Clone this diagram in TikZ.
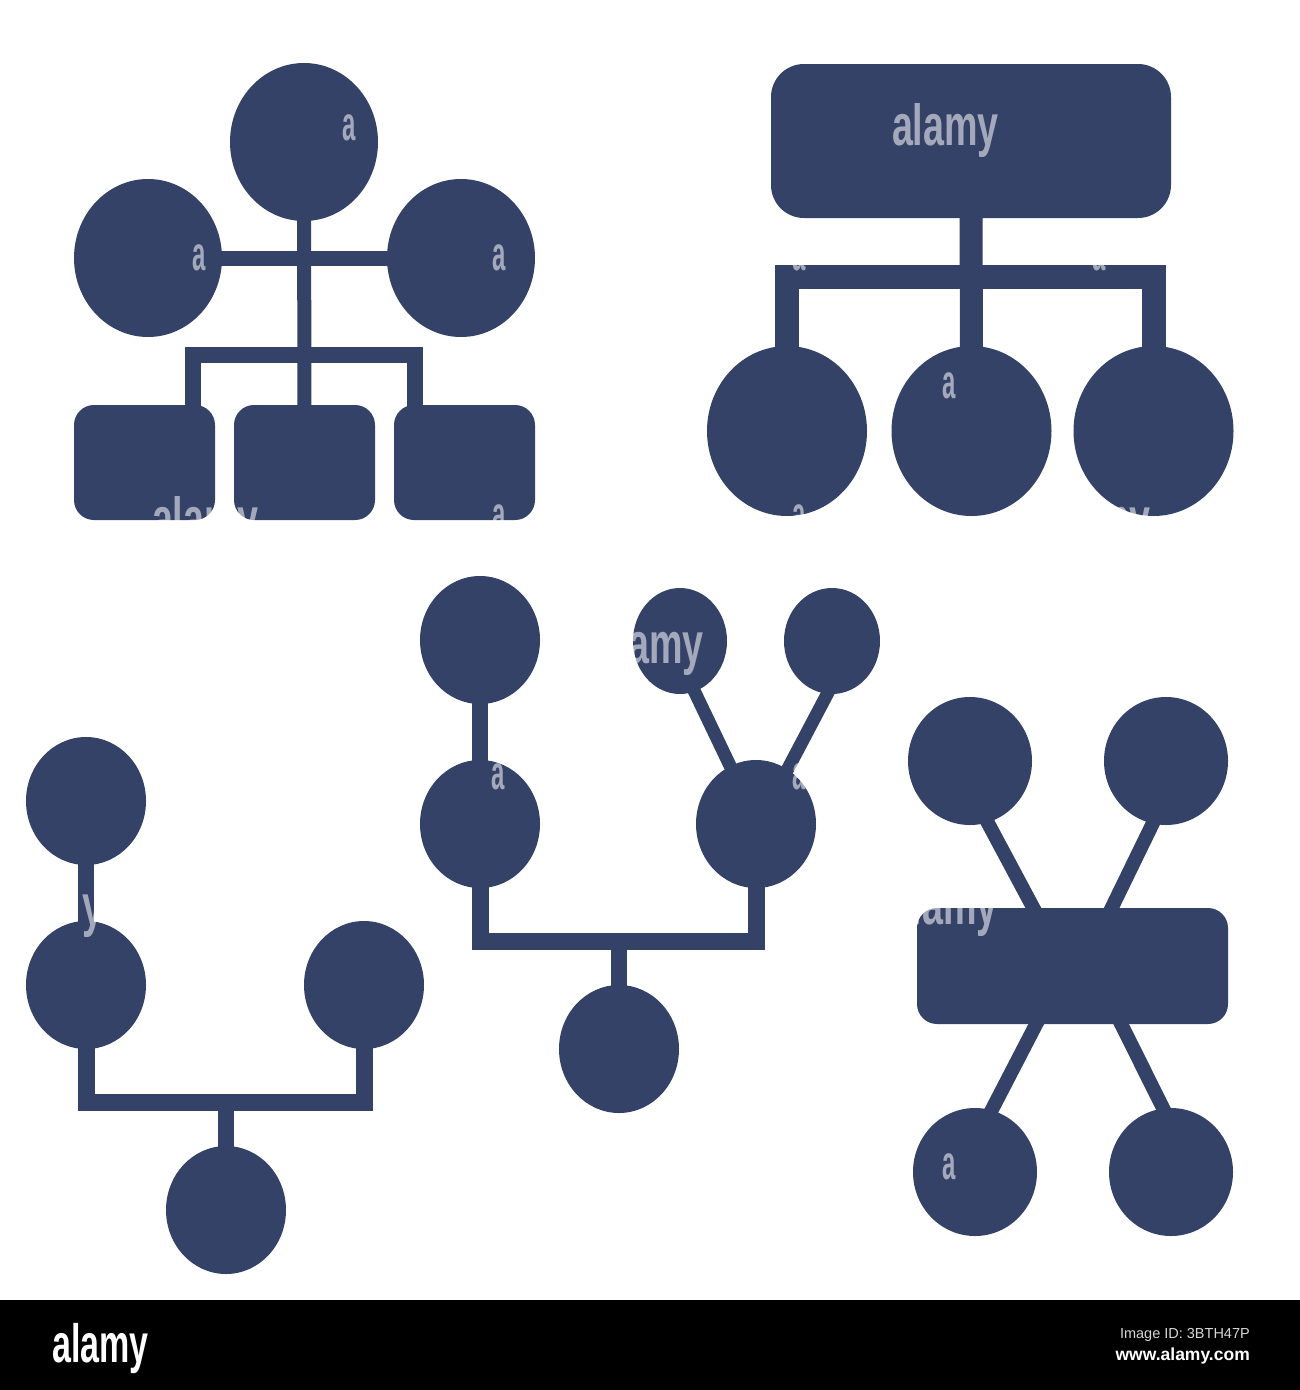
\documentclass[tikz,border=0pt]{standalone}
\usepackage{fontspec}
\setmainfont{Liberation Sans}
\newfontfamily\wmfont{Liberation Sans}
\usetikzlibrary{shapes.geometric,calc}
\definecolor{navy}{RGB}{52,66,104}
\definecolor{idgrey}{RGB}{215,215,215}
\begin{document}
\begin{tikzpicture}[x=1pt,y=-1pt,
  blob/.style={ellipse,fill=navy,draw=none,inner sep=0pt,outer sep=0pt},
  box/.style={rectangle,fill=navy,draw=none,inner sep=0pt,outer sep=0pt},
  conn/.style={draw=navy,line cap=butt,line join=miter},
  ext/.style={shorten <=-8pt,shorten >=-8pt},
  wmword/.style={text=white,text opacity=0.55,inner sep=0pt,outer sep=0pt,anchor=base west,
    font=\wmfont\bfseries\fontsize{58}{58}\selectfont,xscale=0.65},
  wma/.style={text=white,text opacity=0.55,inner sep=0pt,outer sep=0pt,anchor=base west,
    font=\wmfont\bfseries\fontsize{48}{48}\selectfont,xscale=0.5},
]
\useasboundingbox (0,0) rectangle (1300,1390);
\fill[white] (0,0) rectangle (1300,1390);

% ---------- top-left group ----------
\node[blob,minimum width=148pt,minimum height=158pt] (t1) at (304,142) {};
\node[blob,minimum width=148pt,minimum height=158pt] (l1) at (148,258) {};
\node[blob,minimum width=148pt,minimum height=158pt] (r1) at (461,258) {};
\node[box,rounded corners=20pt,minimum width=141pt,minimum height=115pt] (b1) at (144.5,462.5) {};
\node[box,rounded corners=20pt,minimum width=141pt,minimum height=115pt] (b2) at (304.5,462.5) {};
\node[box,rounded corners=20pt,minimum width=141pt,minimum height=115pt] (b3) at (464.5,462.5) {};
\coordinate (j1) at (304,355);
\draw[conn,line width=15pt] (l1.center) -- (r1.center);
\draw[conn,line width=14pt] (t1.center) -- (b2.center);
\draw[conn,line width=16pt] ($(b1.north east)+(-22,6)$) |- (j1) -| ($(b3.north west)+(21,6)$);

% ---------- top-right group ----------
\node[box,rounded corners=33pt,minimum width=400pt,minimum height=154pt] (h0) at (971,141) {};
\node[blob,minimum width=160pt,minimum height=170pt] (c1) at (787,431) {};
\node[blob,minimum width=160pt,minimum height=170pt] (c2) at (971.5,431) {};
\node[blob,minimum width=160pt,minimum height=170pt] (c3) at (1153.5,431) {};
\coordinate (j2) at (971,277);
\draw[conn,line width=23pt] (h0.center) -- (c2.center);
\draw[conn,line width=24pt] (c1.center) |- (j2) -| (c3.center);

% ---------- bottom-left group ----------
\node[blob,minimum width=120pt,minimum height=128pt] (p1) at (86,801) {};
\node[blob,minimum width=120pt,minimum height=128pt] (p2) at (86,985) {};
\node[blob,minimum width=120pt,minimum height=128pt] (p3) at (364,985) {};
\node[blob,minimum width=120pt,minimum height=128pt] (p4) at (226,1210) {};
\coordinate (j3) at (226,1102);
\draw[conn,line width=16pt] (p1.center) -- (p2.center);
\draw[conn,line width=17pt] (p2.center) |- (j3) -| (p3.center);
\draw[conn,line width=16pt] (j3) -- (p4.center);

% ---------- middle group ----------
\node[blob,minimum width=120pt,minimum height=128pt] (m1) at (480,640) {};
\node[blob,minimum width=120pt,minimum height=128pt] (m2) at (480,824) {};
\node[blob,minimum width=120pt,minimum height=128pt] (m3) at (756,824) {};
\node[blob,minimum width=94pt,minimum height=106pt] (m4) at (680,641) {};
\node[blob,minimum width=96pt,minimum height=106pt] (m5) at (832,641) {};
\node[blob,minimum width=120pt,minimum height=128pt] (m6) at (619,1049) {};
\coordinate (j4) at (619,941);
\draw[conn,line width=16pt] (m1.center) -- (m2.center);
\draw[conn,line width=17pt] (m2.center) |- (j4) -| (m3.center);
\draw[conn,line width=16pt] (j4) -- (m6.center);
\draw[conn,ext,line width=13pt] (m4.-74) -- (m3.114);
\draw[conn,ext,line width=13pt] (m5.-95) -- (m3.60);

% ---------- X group ----------
\node[blob,minimum width=124pt,minimum height=128pt] (x1) at (970,761) {};
\node[blob,minimum width=124pt,minimum height=128pt] (x2) at (1166,761) {};
\node[box,rounded corners=20pt,minimum width=311pt,minimum height=116pt] (xr) at (1072.5,966) {};
\node[blob,minimum width=124pt,minimum height=128pt] (x3) at (975,1172) {};
\node[blob,minimum width=124pt,minimum height=128pt] (x4) at (1171,1172) {};
\draw[conn,ext,line width=14pt] (x1.-74) -- (xr.124);
\draw[conn,ext,line width=14pt] (x2.-102) -- (xr.56);
\draw[conn,ext,line width=14pt] (xr.-122) -- (x3.75);
\draw[conn,ext,line width=14pt] (xr.-50) -- (x4.97);

% ---------- watermark ----------
\node[wmword] (w1) at (892,145) {alamy};
\node[wmword] (w2) at (152,538) {alamy};
\node[wmword] (w3) at (1044,538) {alamy};
\node[wmword] (w4) at (597,663) {alamy};
\node[wmword] (w5) at (82,925) {y};
\node[wmword] (w6) at (891,924) {alamy};
\node[wma] (a1) at (342,140) {a};
\node[wma] (a2) at (192,270) {a};
\node[wma] (a3) at (492,270) {a};
\node[wma] (a4) at (492,530) {a};
\node[wma] (a5) at (942,398) {a};
\node[wma] (a6) at (792,270) {a};
\node[wma] (a7) at (1092,270) {a};
\node[wma] (a8) at (792,530) {a};
\node[wma] (a9) at (491,789) {a};
\node[wma] (a10) at (792,789) {a};
\node[wma] (a11) at (942,1179) {a};

% ---------- bottom bar ----------
\fill[black] (0,1300) rectangle (1300,1390);
\node[text=white,inner sep=0pt,anchor=base west,font=\bfseries\fontsize{54}{54}\selectfont,xscale=0.63] (logo) at (52,1362) {alamy};
\node[text=idgrey,inner sep=0pt,anchor=base east,font=\fontsize{14.5}{14.5}\selectfont] (imgid) at (1250,1338) {Image ID: 3BTH47P};
\node[text=white,inner sep=0pt,anchor=base east,font=\bfseries\fontsize{17.5}{17.5}\selectfont] (www) at (1250,1360) {www.alamy.com};
\end{tikzpicture}
\end{document}
